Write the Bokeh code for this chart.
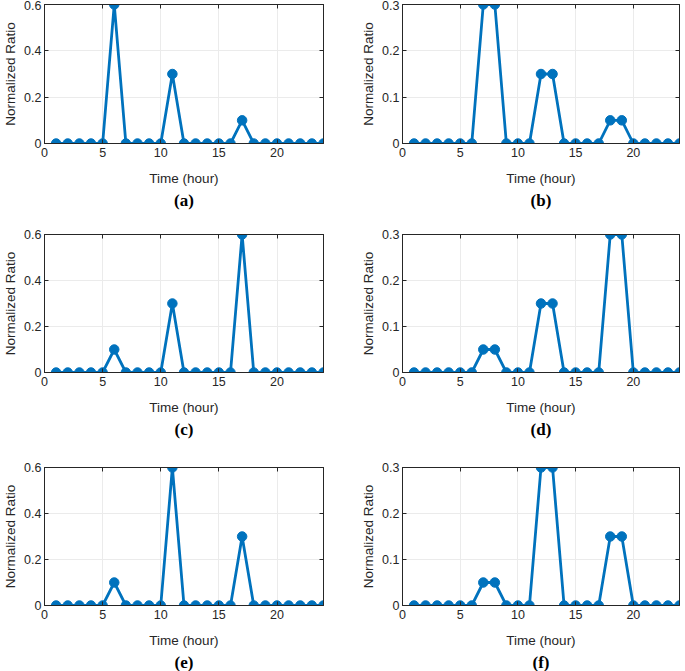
from bokeh.embed import file_html
from bokeh.layouts import column, row
from bokeh.models import FixedTicker, LinearAxis, Range1d, Title
from bokeh.plotting import figure
from bokeh.resources import INLINE

# hourly normalized ratios for the six scenarios
hours = [1, 2, 3, 4, 5, 6, 7, 8, 9, 10, 11, 12, 13, 14, 15, 16, 17, 18, 19, 20, 21, 22, 23, 24]
ratio_a = [0, 0, 0, 0, 0, 0.6, 0, 0, 0, 0, 0.3, 0, 0, 0, 0, 0, 0.1, 0, 0, 0, 0, 0, 0, 0]
ratio_b = [0, 0, 0, 0, 0, 0, 0.3, 0.3, 0, 0, 0, 0.15, 0.15, 0, 0, 0, 0, 0.05, 0.05, 0, 0, 0, 0, 0]
ratio_c = [0, 0, 0, 0, 0, 0.1, 0, 0, 0, 0, 0.3, 0, 0, 0, 0, 0, 0.6, 0, 0, 0, 0, 0, 0, 0]
ratio_d = [0, 0, 0, 0, 0, 0, 0.05, 0.05, 0, 0, 0, 0.15, 0.15, 0, 0, 0, 0, 0.3, 0.3, 0, 0, 0, 0, 0]
ratio_e = [0, 0, 0, 0, 0, 0.1, 0, 0, 0, 0, 0.6, 0, 0, 0, 0, 0, 0.3, 0, 0, 0, 0, 0, 0, 0]
ratio_f = [0, 0, 0, 0, 0, 0, 0.05, 0.05, 0, 0, 0, 0.3, 0.3, 0, 0, 0, 0, 0.15, 0.15, 0, 0, 0, 0, 0]

panel_labels = ["(a)", "(b)", "(c)", "(d)", "(e)", "(f)"]
x_ticks = [0, 5, 10, 15, 20]
y_ticks_big = [0, 0.2, 0.4, 0.6]
y_ticks_small = [0, 0.1, 0.2, 0.3]

BLUE = "#0072BD"
FRAME = "#262626"
SANS = "Liberation Sans"

# (height, border_top, border_bottom) per row
row_geom = [(215, 4, 72), (230, 19, 73), (226, 22, 66)]
# (width, border_left, border_right) per column
col_geom = [(342, 43, 19), (343, 60, 6)]


def make_panel(ys, label, yticks, rgeom, cgeom):
    h, bt, bb = rgeom
    w, bl, br = cgeom
    p = figure(
        width=w, height=h,
        x_range=Range1d(0, 24), y_range=Range1d(0, yticks[-1]),
        output_backend="svg", toolbar_location=None,
        min_border_left=bl, min_border_right=br,
        min_border_top=bt, min_border_bottom=bb,
        background_fill_color="white", border_fill_color="white",
    )
    p.outline_line_color = FRAME
    p.outline_line_width = 1

    p.xaxis.ticker = FixedTicker(ticks=x_ticks)
    p.yaxis.ticker = FixedTicker(ticks=yticks)
    p.yaxis.major_label_overrides = {0: "0"}
    p.xaxis.axis_label = "Time (hour)"
    p.yaxis.axis_label = "Normalized Ratio"
    for ax in (p.xaxis, p.yaxis):
        ax.axis_line_color = FRAME
        ax.major_tick_line_color = FRAME
        ax.major_tick_in = 4
        ax.major_tick_out = 0
        ax.minor_tick_line_color = None
        ax.major_label_text_font = SANS
        ax.major_label_text_font_size = "12.5px"
        ax.major_label_text_color = "#262626"
        ax.axis_label_text_font = SANS
        ax.axis_label_text_font_size = "13.5px"
        ax.axis_label_text_font_style = "normal"
        ax.axis_label_text_color = "#262626"
    p.xaxis.major_label_standoff = 4
    p.yaxis.major_label_standoff = 3
    p.xaxis.axis_label_standoff = 11
    p.yaxis.axis_label_standoff = 3

    # mirrored tick-only axes on top and right (labels not drawn)
    for loc, tk in (("above", x_ticks), ("right", yticks)):
        ax = LinearAxis(
            ticker=FixedTicker(ticks=tk),
            major_label_text_font_size="0px",
            major_label_text_color=None,
            major_label_standoff=0,
            major_tick_in=4, major_tick_out=0,
            minor_tick_line_color=None,
            axis_line_color=FRAME, major_tick_line_color=FRAME,
        )
        p.add_layout(ax, loc)

    p.xgrid.ticker = FixedTicker(ticks=x_ticks)
    p.ygrid.ticker = FixedTicker(ticks=yticks)
    p.grid.grid_line_color = "#EBEBEB"
    p.grid.grid_line_width = 1

    p.line(hours, ys, line_color=BLUE, line_width=2.8)
    p.scatter(hours, ys, size=9.5, fill_color=BLUE, line_color=BLUE)

    p.add_layout(
        Title(
            text=label, align="center", text_font="Liberation Serif",
            text_font_style="bold", text_font_size="17px", text_color="black",
            standoff=0,
        ),
        "below",
    )
    return p


series = [ratio_a, ratio_b, ratio_c, ratio_d, ratio_e, ratio_f]
rows = []
for r in range(3):
    figs = []
    for c in range(2):
        i = r * 2 + c
        yt = y_ticks_big if c == 0 else y_ticks_small
        figs.append(make_panel(series[i], panel_labels[i], yt, row_geom[r], col_geom[c]))
    rows.append(row(*figs))

layout = column(*rows)
open("out.html", "w").write(file_html(layout, INLINE))
